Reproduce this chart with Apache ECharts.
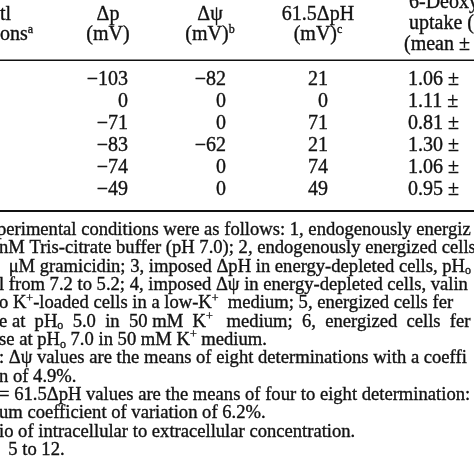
<!DOCTYPE html><html><head><meta charset="utf-8">
<script src="https://cdn.jsdelivr.net/npm/echarts@6/dist/echarts.min.js"></script>
<style>html,body{margin:0;background:#fff}#c{width:474px;height:474px}</style></head><body><div id="c"></div>
<script>
const headers = [
  {x:0, lines:['tl','ons{s|a}'], align:'left'},
  {x:108, lines:['Δp','(mV)'], align:'center'},
  {x:210, lines:['Δψ','(mV){s|b}'], align:'center'},
  {x:318, lines:['61.5ΔpH','(mV){s|c}'], align:'center'}
];
const deoxyHeader = ['6-Deoxy','uptake (','(mean ±'];
const dp = ['−103','0','−71','−83','−74','−49'];
const dpsi = ['−82','0','0','−62','0','0'];
const dph = ['21','0','71','21','74','49'];
const uptake = ['1.06 ±','1.11 ±','0.81 ±','1.30 ±','1.06 ±','0.95 ±'];
const footnotes = [
  'perimental conditions were as follows: 1, endogenously energiz',
  'nM Tris-citrate buffer (pH 7.0); 2, endogenously energized cells',
  ' μM gramicidin; 3, imposed ΔpH in energy-depleted cells, pH{b|o}',
  'l from 7.2 to 5.2; 4, imposed Δψ in energy-depleted cells, valin',
  'o K{s|+}-loaded cells in a low-K{s|+}  medium; 5, energized cells fer',
  'e at  pH{b|o}  5.0  in  50 mM  K{s|+}   medium;  6,  energized  cells  fer',
  'se at pH{b|o} 7.0 in 50 mM K{s|+} medium.',
  ': Δψ values are the means of eight determinations with a coeffi',
  'n of 4.9%.',
  '= 61.5ΔpH values are the means of four to eight determination:',
  'um coefficient of variation of 6.2%.',
  'io of intracellular to extracellular concentration.',
  '  5 to 12.'
];
const F='"Liberation Serif","DejaVu Serif",serif', C='#111';
const rich={s:{fontSize:12,fontFamily:F,fill:C,padding:[0,0,10,0]},b:{fontSize:12,fontFamily:F,fill:C,padding:[9,0,0,0]}};
const g=[];
function t(x,y,text,size,align){g.push({type:'text',x:x,y:y,style:{text:text,font:size+'px '+F,fill:C,stroke:C,lineWidth:0.35,align:align||'left',verticalAlign:'middle',rich:rich}});}
headers.forEach(h=>{t(h.x,15,h.lines[0],20,h.align);t(h.x,35,h.lines[1],20,h.align);});
deoxyHeader.forEach((s,i)=>t(i==2?404:409,3+i*21,s,20,'left'));
g.push({type:'rect',shape:{x:0,y:59.5,width:474,height:1.6},style:{fill:C}});
g.push({type:'rect',shape:{x:0,y:210,width:474,height:2},style:{fill:C}});
const ry=[80,102,124,146,168,190];
dp.forEach((v,i)=>{t(128,ry[i],v,20,'right');t(226,ry[i],dpsi[i],20,'right');t(328,ry[i],dph[i],20,'right');t(408,ry[i],uptake[i],20,'left');});
footnotes.forEach((s,i)=>t(i==0?-3:(i==2?4:-1),230+i*18.35,s,18.6,'left'));
const ch=echarts.init(document.getElementById('c'));
ch.setOption({animation:false,graphic:g});
</script></body></html>
